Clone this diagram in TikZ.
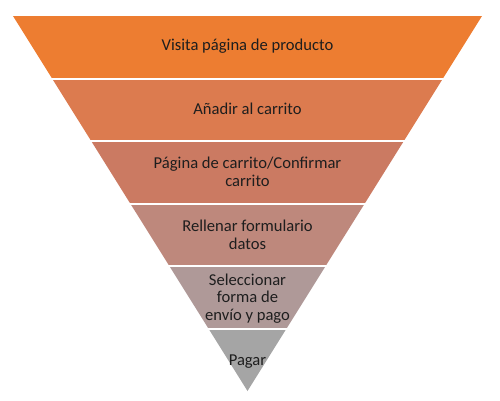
\documentclass[tikz,border=0pt]{standalone}
\usepackage{fontspec}
\setmainfont{Carlito}
\definecolor{bA}{HTML}{ED7D31}
\definecolor{bB}{HTML}{DC7B4F}
\definecolor{bC}{HTML}{CB7A62}
\definecolor{bD}{HTML}{BE887C}
\definecolor{bE}{HTML}{AF9998}
\definecolor{bF}{HTML}{A5A5A5}
\definecolor{txt}{HTML}{1E1E1E}
\tikzset{
  lbl/.style={text=txt, font=\fontsize{16.6}{17.5}\selectfont, align=center, inner sep=0pt},
  gapline/.style={draw=white, line width=2pt}
}
\begin{document}
\begin{tikzpicture}[x=1pt,y=-1pt]
\useasboundingbox (0,0) rectangle (500,400);
% half width at height y: 0.62533*(391-y), centre x = 247.5
\foreach \i/\c in {0/bA,1/bB,2/bC,3/bD,4/bE,5/bF}{
  \pgfmathsetmacro{\yt}{16+62.5*\i}
  \pgfmathsetmacro{\yb}{16+62.5*(\i+1)}
  \pgfmathsetmacro{\ht}{0.62533*(391-\yt)}
  \pgfmathsetmacro{\hb}{0.62533*(391-\yb)}
  \fill[\c] (247.5-\ht,\yt) -- (247.5+\ht,\yt) -- (247.5+\hb,\yb) -- (247.5-\hb,\yb) -- cycle;
}
\foreach \i in {1,...,5}{
  \pgfmathsetmacro{\yy}{16+62.5*\i}
  \draw[gapline] (0,\yy) -- (500,\yy);
}
\node[lbl] (n1) at (247.5,46.5) {Visita página de producto};
\node[lbl] (n2) at (247.5,109) {Añadir al carrito};
\node[lbl] (n3) at (247.5,172) {Página de carrito/Confirmar\\carrito};
\node[lbl] (n4) at (247.5,235) {Rellenar formulario\\datos};
\node[lbl] (n5) at (247.5,298.5) {Seleccionar\\forma de\\envío y pago};
\node[lbl] (n6) at (247.5,362) {Pagar};
\end{tikzpicture}
\end{document}
